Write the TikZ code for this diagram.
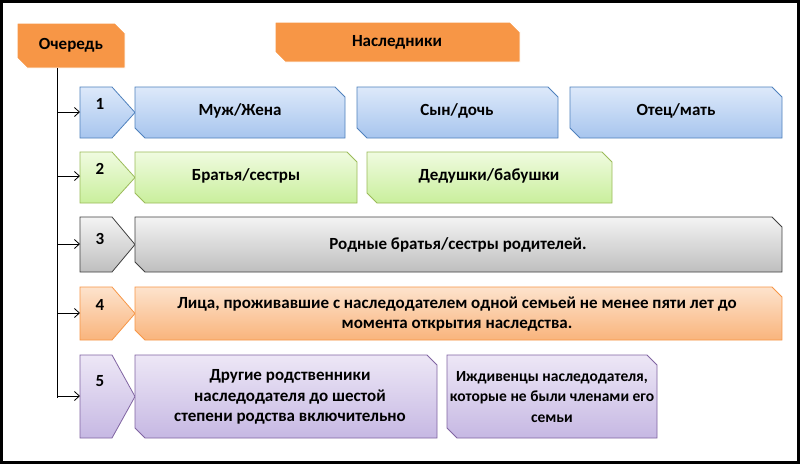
\documentclass[tikz,border=0pt]{standalone}
\usepackage{fontspec}
\setmainfont{Carlito}
\usetikzlibrary{arrows.meta}
\definecolor{bB}{HTML}{4F81BD}\definecolor{bT}{HTML}{DDE9FA}\definecolor{bD}{HTML}{A7C5EE}
\definecolor{gB}{HTML}{9BBB59}\definecolor{gT}{HTML}{F0FBE0}\definecolor{gD}{HTML}{C9EF9C}
\definecolor{kB}{HTML}{404040}\definecolor{kT}{HTML}{F4F4F4}\definecolor{kD}{HTML}{BEBEBE}
\definecolor{oB}{HTML}{F79646}\definecolor{oT}{HTML}{FDE3CD}\definecolor{oD}{HTML}{F9B47C}
\definecolor{pB}{HTML}{8064A2}\definecolor{pT}{HTML}{EDE7F6}\definecolor{pD}{HTML}{C6B8E3}
\definecolor{hdr}{HTML}{F79646}
\tikzset{
  txt/.style={font=\bfseries\fontsize{17}{20.5}\selectfont,align=center},
  num/.style={font=\bfseries\fontsize{17}{20}\selectfont},
  blu/.style={draw=bB,top color=bT,bottom color=bD,line width=0.8pt},
  grn/.style={draw=gB,top color=gT,bottom color=gD,line width=0.8pt},
  gry/.style={draw=kB,top color=kT,bottom color=kD,line width=0.8pt},
  orn/.style={draw=oB,top color=oT,bottom color=oD,line width=0.8pt},
  prp/.style={draw=pB,top color=pT,bottom color=pD,line width=0.8pt},
  hd/.style={fill=hdr,draw=white,line width=1pt},
  conn/.style={-{Straight Barb[length=5pt,width=9pt]},line width=0.8pt}
}
\newcommand{\cbx}[5]{\path[#5] (#1,#2)--({#3-10},#2)--(#3,{#2+10})--(#3,#4)--({#1+10},#4)--(#1,{#4-10})--cycle;}
\newcommand{\nbx}[3]{\path[#3] (80,#1)--(112,#1)--(135,{(#1+#2)/2})--(112,#2)--(80,#2)--cycle;}
\begin{document}
\begin{tikzpicture}[x=1pt,y=-1pt]
\useasboundingbox (0,0) rectangle (800,464);
\fill[white] (0,0) rectangle (800,464);
\draw[line width=3pt] (1.5,1.5) rectangle (798.5,462.5);
% headers
\path[hd] (17,23)--(115,23)--(125,33)--(125,68)--(27,68)--(17,58)--cycle;
\node[txt] (och) at (71,45) {Очередь};
\path[hd] (275,22)--(510,22)--(520,32)--(520,62)--(285,62)--(275,52)--cycle;
\node[txt] (nas) at (397,42) {Наследники};
% row1
\nbx{87}{138}{blu}\node[num] (n1) at (100,104) {1};
\cbx{135}{87}{345}{138}{blu}\node[txt] (a1) at (240,111) {Муж/Жена};
\cbx{357}{87}{558}{138}{blu}\node[txt] (a2) at (457,111) {Сын/дочь};
\cbx{570}{87}{782}{138}{blu}\node[txt] (a3) at (676,111) {Отец/мать};
% row2
\nbx{152}{203}{grn}\node[num] (n2) at (100,169) {2};
\cbx{135}{152}{357}{203}{grn}\node[txt] (b1) at (246,176) {Братья/сестры};
\cbx{367}{152}{612}{203}{grn}\node[txt] (b2) at (489,176) {Дедушки/бабушки};
% row3
\nbx{217}{272}{gry}\node[num] (n3) at (100,239) {3};
\cbx{135}{217}{782}{272}{gry}\node[txt] (c1) at (458,245) {Родные братья/сестры родителей.};
% row4
\nbx{287}{340}{orn}\node[num] (n4) at (100,305) {4};
\cbx{135}{287}{782}{340}{orn}\node[txt] (d1) at (457,314) {Лица, проживавшие с наследодателем одной семьей не менее пяти лет до\\момента открытия наследства.};
% row5
\nbx{355}{438}{prp}\node[num] (n5) at (100,381) {5};
\cbx{135}{355}{437}{438}{prp}\node[txt] (e1) at (290,397) {Другие родственники\\наследодателя до шестой\\степени родства включительно};
\cbx{447}{355}{657}{438}{prp}\node[txt,font=\bfseries\fontsize{15.5}{20.5}\selectfont] (e2) at (552,397) {Иждивенцы наследодателя,\\которые не были членами его\\семьи};
% spine
\coordinate (top) at (57,68);
\coordinate (bot) at (57,398);
\draw[line width=1pt] (top)--(bot);
\foreach \y in {112,176,244,313,396}{\draw[conn] (57,\y)--(80,\y);}
\end{tikzpicture}
\end{document}
